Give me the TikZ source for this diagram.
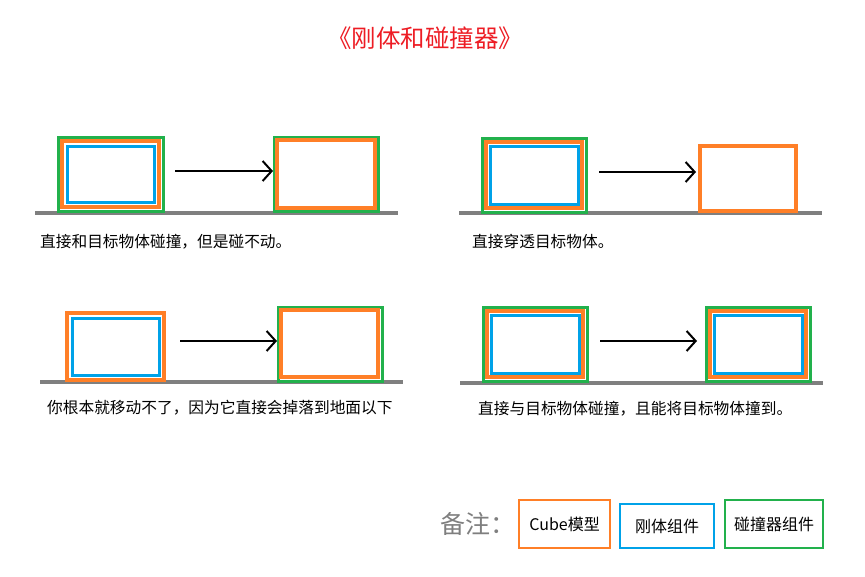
\documentclass[tikz,border=0pt]{standalone}
\usepackage{fontspec}
\setmainfont{Noto Sans CJK SC}
\usetikzlibrary{arrows.meta}
\definecolor{cor}{HTML}{FF7F27}
\definecolor{cbl}{HTML}{00A2E8}
\definecolor{cgr}{HTML}{22B14C}
\definecolor{cgy}{HTML}{7F7F7F}
\definecolor{crd}{HTML}{ED1C24}
\newcommand\mybx[6]{\node[#2,minimum width={(#5-#3)*1pt},minimum height={(#6-#4)*1pt}] (#1) at ({(#3+#5)/2},{(#4+#6)/2}) {};}
\tikzset{
 gb/.style={draw=cgr,line width=3pt,inner sep=0pt},
 ob/.style={draw=cor,line width=3.5pt,inner sep=0pt},
 bb/.style={draw=cbl,line width=3pt,inner sep=0pt},
 ground/.style={draw=cgy,line width=4pt},
 mvarrow/.style={draw=black,line width=2pt,-{Straight Barb[length=9pt,width=20pt,line width=2pt]}},
 captext/.style={anchor=west,inner sep=0pt,font=\fontsize{15.7}{15.7}\selectfont},
 legbox/.style={line width=2.5pt,inner sep=0pt,font=\fontsize{16}{16}\selectfont}
}
\begin{document}
\begin{tikzpicture}[x=1pt,y=-1pt]
\useasboundingbox (0,0) rectangle (865,576);
\node[text=crd,font=\fontsize{24.5}{24.5}\selectfont] (title) at (425,38) {《刚体和碰撞器》};
% panel 1
\draw[ground] (35,213) coordinate (g1a) -- (398,213) coordinate (g1b);
\mybx{p1gl}{gb}{58}{137}{163}{211}
\mybx{p1ol}{ob}{62}{141}{159}{207}
\mybx{p1bl}{bb}{67}{146}{154}{202}
\coordinate (a1s) at (175,171); \coordinate (a1e) at (273,171);
\draw[mvarrow] (a1s) -- (a1e);
\mybx{p1gr}{gb}{274}{137}{378}{211}
\mybx{p1or}{ob}{277}{140}{375}{208}
\node[captext] (c1) at (40,242) {直接和目标物体碰撞，但是碰不动。};
% panel 2
\draw[ground] (459,213) coordinate (g2a) -- (822,213) coordinate (g2b);
\mybx{p2gl}{gb}{482}{138}{586}{212}
\mybx{p2ol}{ob}{486}{142}{582}{208}
\mybx{p2bl}{bb}{490}{146}{578}{204}
\coordinate (a2s) at (599,172); \coordinate (a2e) at (696,172);
\draw[mvarrow] (a2s) -- (a2e);
\mybx{p2or}{ob}{700}{146}{796}{211}
\node[captext] (c2) at (472,241) {直接穿透目标物体。};
% panel 3
\draw[ground] (40,382) coordinate (g3a) -- (403,382) coordinate (g3b);
\mybx{p3ol}{ob}{67}{313}{164}{380}
\mybx{p3bl}{bb}{72}{318}{159}{375}
\coordinate (a3s) at (180,341); \coordinate (a3e) at (277,341);
\draw[mvarrow] (a3s) -- (a3e);
\mybx{p3gr}{gb}{278}{307}{382}{381}
\mybx{p3or}{ob}{281}{310}{378}{377}
\node[captext] (c3) at (47,408) {你根本就移动不了，因为它直接会掉落到地面以下};
% panel 4
\draw[ground] (460,383) coordinate (g4a) -- (823,383) coordinate (g4b);
\mybx{p4gl}{gb}{483}{307}{587}{381}
\mybx{p4ol}{ob}{487}{311}{583}{377}
\mybx{p4bl}{bb}{491}{315}{579}{373}
\coordinate (a4s) at (600,341); \coordinate (a4e) at (697,341);
\draw[mvarrow] (a4s) -- (a4e);
\mybx{p4gr}{gb}{706}{307}{810}{381}
\mybx{p4or}{ob}{710}{311}{806}{377}
\mybx{p4br}{bb}{714}{315}{802}{373}
\node[captext] (c4) at (478,409) {直接与目标物体碰撞，且能将目标物体撞到。};
% legend
\node[text=cgy,font=\fontsize{25}{25}\selectfont,anchor=west,inner sep=0pt] (note) at (440,524) {备注：};
\node[legbox,draw=cor,minimum width=91pt,minimum height=48pt] (l1) at (564.5,524) {Cube模型};
\node[legbox,draw=cbl,minimum width=94pt,minimum height=44pt] (l2) at (667,526) {刚体组件};
\node[legbox,draw=cgr,minimum width=98pt,minimum height=48pt] (l3) at (774,524) {碰撞器组件};
\end{tikzpicture}
\end{document}
